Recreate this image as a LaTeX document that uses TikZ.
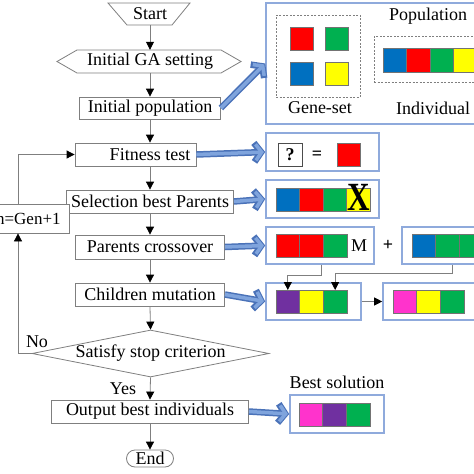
\documentclass[tikz,border=0pt]{standalone}
\usepackage{fontspec}
\setmainfont{Liberation Serif}
\usetikzlibrary{arrows.meta,shapes.geometric,shapes.misc,calc}
\definecolor{gR}{HTML}{FF0000}
\definecolor{gG}{HTML}{00B050}
\definecolor{gB}{HTML}{0070C0}
\definecolor{gY}{HTML}{FFFF00}
\definecolor{gP}{HTML}{7030A0}
\definecolor{gM}{HTML}{FF33CC}
\definecolor{frameblue}{HTML}{8FAADC}
\definecolor{arrdark}{HTML}{4A72B8}
\definecolor{arrlight}{HTML}{7FA4DD}
\definecolor{lgray}{HTML}{7F7F7F}
\newcommand\myfs{\fontsize{18}{20}\selectfont}
\newcommand\bigarrow[2]{%
  \draw[bigout] (#1) -- (#2);
  \draw[bigin] (#1) -- (#2);}
\tikzset{
  flow/.style={draw=lgray, line width=0.8pt, fill=white, minimum height=23pt, inner sep=0pt, font=\myfs},
  ghost/.style={inner sep=0pt, font=\myfs},
  lbl/.style={inner sep=0pt, font=\myfs},
  gene/.style={draw=black!55, line width=0.5pt, minimum width=23.5pt, minimum height=23.5pt, inner sep=0pt, outer sep=0pt},
  panel/.style={draw=frameblue, line width=1.6pt, inner sep=0pt},
  dashbox/.style={draw=lgray, dash pattern=on 2pt off 1.5pt, line width=0.7pt, inner sep=0pt},
  arr/.style={draw=lgray, line width=0.8pt, -{Triangle[length=8pt,width=8pt,color=black]}},
  bigout/.style={line width=6.5pt, draw=arrdark, -{Straight Barb[length=7pt,width=19pt]}},
  bigin/.style={line width=3.5pt, draw=arrlight, shorten >=1.3pt, -{Straight Barb[length=6pt,width=16pt]}},
}
\begin{document}
\begin{tikzpicture}[x=1pt,y=-1pt]
\useasboundingbox (0,0) rectangle (474,474);
\clip (0,0) rectangle (474,474);
% ---------------- flow chart ----------------
\draw[draw=lgray, line width=0.8pt, fill=white] (108,3) -- (190,3) -- (172,25) -- (127,25) -- cycle;
\node[ghost, minimum width=82pt, minimum height=22pt] (start) at (150,14) {Start};
\draw[draw=lgray, line width=0.8pt, fill=white] (57,61.5) -- (77,50) -- (221,50) -- (241,61.5) -- (221,73) -- (77,73) -- cycle;
\node[ghost, minimum width=140pt, minimum height=23pt] (ga) at (150,61.5) {Initial GA setting};
\node[flow, minimum width=141pt, minimum height=22pt] (initpop) at (150,108) {Initial population};
\node[flow, minimum width=121pt] (fitb) at (135.5,154.5) {};
\node[lbl] (fitt) at (150,154.5) {Fitness test};
\node[flow, minimum width=167pt] (selection) at (150,201.5) {Selection best Parents};
\node[flow, minimum width=149pt, minimum height=24pt] (crossover) at (150,247) {Parents crossover};
\node[flow, minimum width=149pt] (mutation) at (150,294.5) {Children mutation};
\node[draw=lgray, line width=0.8pt, shape=diamond, minimum width=237pt, minimum height=47pt, inner sep=0pt] (dia) at (150.5,353.5) {};
\node[lbl] (diat) at (150.5,353.5) {Satisfy stop criterion};
\node[flow, minimum width=197pt] (output) at (150,411.5) {Output best individuals};
\node[flow, shape=rounded rectangle, minimum width=47pt, minimum height=17pt] (end) at (150,458.5) {End};
\node[flow, anchor=east, minimum height=29pt, inner xsep=9pt, font=\fontsize{17}{19}\selectfont] (gen) at (70,218.5) {Gen=Gen+1};
\coordinate (lx) at (18,0);
% connectors
\draw[arr] (start.south) -- (ga.north);
\draw[arr] (ga.south) -- (initpop.north);
\draw[arr] (initpop.south) -- (initpop.south |- fitb.north);
\draw[arr] (fitb.south -| fitt) -- (selection.north);
\draw[arr] (selection.south) -- (crossover.north);
\draw[arr] (crossover.south) -- (mutation.north);
\draw[arr] (mutation.south) -- (dia.north);
\draw[arr] (dia.south) -- (output.north);
\draw[arr] (output.south) -- (end.north);
\draw[arr] (dia.west) -| (gen.south -| lx);
\draw[arr] (gen.north -| lx) |- (fitb.west);
\node[lbl] (no) at (37,342) {No};
\node[lbl] (yes) at (123,389) {Yes};
% ---------------- right panels ----------------
\node[panel, minimum width=234pt, minimum height=121pt] (pop) at (383,63.5) {};
\node[dashbox, minimum width=84pt, minimum height=82pt] (geneset) at (318,56) {};
\node[gene, fill=gR, minimum width=23pt, minimum height=23pt] (g1) at (301.5,38.5) {};
\node[gene, fill=gG, minimum width=23pt, minimum height=23pt] (g2) at (337,38.5) {};
\node[gene, fill=gB, minimum width=23pt, minimum height=23pt] (g3) at (301.5,73.5) {};
\node[gene, fill=gY, minimum width=23pt, minimum height=23pt] (g4) at (337,73.5) {};
\node[lbl] (genet) at (320,108) {Gene-set};
\node[lbl] (popt) at (428,16) {Population};
\node[dashbox, minimum width=126pt, minimum height=46pt] (indiv) at (437,59) {};
\foreach \c [count=\i from 0] in {gB,gR,gG,gY}
  \node[gene, fill=\c, minimum height=24pt] (ind\i) at (394.75+\i*23.5,60) {};
\node[lbl] (indt) at (433,108) {Individual};
% fitness panel
\node[panel, minimum width=113pt, minimum height=38pt] (fitp) at (322.5,152) {};
\node[draw=black!70, line width=0.6pt, minimum width=24pt, minimum height=23pt, inner sep=0pt, font=\myfs\bfseries] (q) at (290,154.5) {?};
\node[lbl, font=\myfs\bfseries] (eq) at (317,155) {=};
\node[gene, fill=gR, minimum height=23pt] (fr) at (348.5,154.5) {};
% selection panel
\node[panel, minimum width=113pt, minimum height=38pt] (selp) at (322.5,199) {};
\foreach \c [count=\i from 0] in {gB,gR,gG,gY}
  \node[gene, fill=\c, minimum height=23pt] (sel\i) at (287.75+\i*23.5,199.5) {};
\node[inner sep=0pt, font=\fontsize{40}{40}\selectfont\bfseries, xscale=0.78] (xmark) at (358.5,197) {X};
% crossover panels
\node[panel, minimum width=108pt, minimum height=37pt] (cross1) at (320,245.5) {};
\foreach \c [count=\i from 0] in {gR,gR,gG}
  \node[gene, fill=\c, minimum width=23.67pt, minimum height=23pt] (c1s\i) at (287.8+\i*23.67,245.5) {};
\node[lbl] (mt) at (359,246) {M};
\node[lbl, font=\myfs\bfseries] (plus) at (388,245) {+};
\node[panel, minimum width=118pt, minimum height=37pt] (cross2) at (461,245.5) {};
\foreach \c [count=\i from 0] in {gB,gG,gG}
  \node[gene, fill=\c, minimum height=23pt] (c2s\i) at (423.75+\i*23.5,245.5) {};
% mutation panels
\node[panel, minimum width=95pt, minimum height=37pt] (mut1) at (313.5,301.5) {};
\foreach \c [count=\i from 0] in {gP,gY,gG}
  \node[gene, fill=\c, minimum width=23.67pt, minimum height=23pt] (m1s\i) at (287.8+\i*23.67,301.5) {};
\node[panel, minimum width=137pt, minimum height=37pt] (mut2) at (451.5,301.5) {};
\foreach \c [count=\i from 0] in {gM,gY,gG}
  \node[gene, fill=\c, minimum width=23.67pt, minimum height=23pt] (m2s\i) at (404.7+\i*23.67,301.5) {};
\draw[arr] (mut1.east) -- (mut2.west);
\draw[arr] (cross1.south) ++(1,0) -- ++(0,11) -| (m1s0.north);
\draw[arr] (cross2.south) ++(-9,0) -- ++(0,9) -| (m1s2.north);
% best solution
\node[lbl] (bestt) at (337,382) {Best solution};
\node[panel, minimum width=94pt, minimum height=38pt] (best) at (337,414) {};
\foreach \c [count=\i from 0] in {gM,gP,gG}
  \node[gene, fill=\c, minimum width=23.67pt, minimum height=23pt] (b\i) at (310.8+\i*23.67,414.5) {};
% big blue arrows
\bigarrow{initpop.east}{pop.west}
\bigarrow{fitb.east}{fitp.west}
\bigarrow{selection.east}{selp.west}
\bigarrow{crossover.east}{cross1.west}
\bigarrow{mutation.east}{mut1.west}
\bigarrow{output.east}{best.west}
\end{tikzpicture}
\end{document}
